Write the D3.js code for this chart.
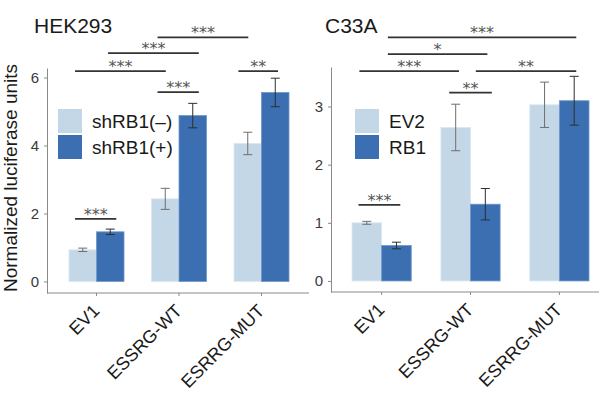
<!DOCTYPE html>
<html>
<head>
<meta charset="utf-8">
<script src="https://cdn.jsdelivr.net/npm/d3@7"></script>
<style>
  body { margin: 0; background: #fff; }
  svg { display: block; font-family: "Liberation Sans", Arial, sans-serif; }
</style>
</head>
<body>
<svg width="614" height="398"></svg>
<script>
// groups on the x axis (same in both panels)
const categories = ["EV1", "ESSRG-WT", "ESRRG-MUT"];

// HEK293 panel
const hekSeries = ["shRB1(\u2013)", "shRB1(+)"];
const hekLight  = [0.93, 2.43, 4.06];
const hekLightErr = [0.05, 0.31, 0.33];
const hekDark   = [1.46, 4.88, 5.56];
const hekDarkErr  = [0.08, 0.36, 0.42];
const hekTicks  = [0, 2, 4, 6];
// brackets: [from, to] in group units, level in data units, label
const hekBrackets = [
  [-0.26, 0.24, 1.84, "***"],
  [0.74, 1.24, 5.57, "***"],
  [1.72, 2.20, 6.19, "**"],
  [-0.26, 0.84, 6.19, "***"],
  [0.14, 1.24, 6.72, "***"],
  [0.74, 1.84, 7.18, "***"]
];

// C33A panel
const c33Series = ["EV2", "RB1"];
const c33Light  = [1.00, 2.64, 3.03];
const c33LightErr = [0.025, 0.40, 0.39];
const c33Dark   = [0.61, 1.32, 3.10];
const c33DarkErr  = [0.057, 0.27, 0.42];
const c33Ticks  = [0, 1, 2, 3];
const c33Brackets = [
  [-0.26, 0.21, 1.31, "***"],
  [0.76, 1.24, 3.24, "**"],
  [-0.25, 0.87, 3.61, "***"],
  [1.06, 2.19, 3.61, "**"],
  [0.07, 1.19, 3.90, "*"],
  [0.07, 2.19, 4.19, "***"]
];

const lightCol = "#c4d7e7";
const darkCol  = "#3b6fb1";
const axisCol  = "#8a8a8a";

const svg = d3.select("svg");

function drawPanel(p) {
  const g = svg.append("g");

  const x = d3.scaleBand()
    .domain(categories)
    .range(p.xRange)
    .paddingInner(1 / 3)
    .paddingOuter(0);
  const y = d3.scaleLinear()
    .domain(p.yDomain)
    .range(p.yRange);
  const bw = x.bandwidth() / 2;
  // group index -> pixel (centre of the pair of bars)
  const gx = d3.scaleLinear()
    .domain([0, categories.length - 1])
    .range([x(categories[0]) + bw, x(categories[categories.length - 1]) + bw]);

  // title
  g.append("text")
      .attr("x", p.titleX)
      .attr("y", 33)
      .attr("font-size", 21)
      .attr("fill", "#1a1a1a")
      .text(p.title);

  // bars
  const rows = categories.map((c, i) => ({
    cat: c,
    vals: [
      { v: p.light[i], e: p.lightErr[i], k: 0 },
      { v: p.dark[i], e: p.darkErr[i], k: 1 }
    ]
  }));

  const grp = g.append("g")
    .selectAll("g")
    .data(rows)
    .join("g")
      .attr("transform", d => `translate(${x(d.cat)},0)`);

  grp.selectAll("rect")
    .data(d => d.vals)
    .join("rect")
      .attr("x", d => d.k * bw)
      .attr("width", bw)
      .attr("y", d => y(d.v))
      .attr("height", d => y(0) - y(d.v))
      .attr("fill", d => d.k ? darkCol : lightCol)
      .attr("stroke", d => d.k ? "#6f97c8" : "#dbe7f1")
      .attr("stroke-width", 0.8);

  // error bars
  grp.selectAll("path.err")
    .data(d => d.vals)
    .join("path")
      .attr("class", "err")
      .attr("fill", "none")
      .attr("stroke", d => d.k ? "#2e2e2e" : "#6e6e6e")
      .attr("stroke-width", 1)
      .attr("d", d => {
        const cx = d.k * bw + bw / 2;
        return `M${cx},${y(d.v + d.e)}V${y(d.v - d.e)}` +
               `M${cx - 4.5},${y(d.v + d.e)}H${cx + 4.5}` +
               `M${cx - 4.5},${y(d.v - d.e)}H${cx + 4.5}`;
      });

  // y axis
  g.append("g")
      .attr("transform", `translate(${p.axisX},0)`)
      .call(d3.axisLeft(y).tickValues(p.ticks).tickFormat(d3.format("d"))
        .tickSize(3).tickSizeOuter(0).tickPadding(5))
      .call(a => a.select(".domain").attr("stroke", axisCol))
      .call(a => a.selectAll(".tick line").attr("stroke", axisCol))
      .call(a => a.selectAll(".tick text")
        .attr("font-size", 15)
        .attr("fill", "#3a3a3a")
        .attr("font-family", "Liberation Sans, Arial, sans-serif"));

  // x axis
  const xa = g.append("g")
      .attr("transform", `translate(0,${p.yRange[0]})`)
      .call(d3.axisBottom(x).tickSize(3).tickSizeOuter(0));
  xa.select(".domain").remove();
  xa.selectAll(".tick line").attr("stroke", axisCol);
  xa.selectAll(".tick text")
      .attr("font-size", 18)
      .attr("fill", "#1a1a1a")
      .attr("font-family", "Liberation Sans, Arial, sans-serif")
      .attr("text-anchor", "end")
      .attr("dy", 0)
      .attr("y", 0)
      .attr("transform", "translate(4,19) rotate(-45)");
  g.append("line")
      .attr("x1", p.axisX)
      .attr("x2", p.axisEnd)
      .attr("y1", p.yRange[0])
      .attr("y2", p.yRange[0])
      .attr("stroke", axisCol);

  // significance brackets
  const br = g.append("g")
    .selectAll("g")
    .data(p.brackets)
    .join("g");
  br.append("line")
      .attr("x1", d => gx(d[0]))
      .attr("x2", d => gx(d[1]))
      .attr("y1", d => y(d[2]))
      .attr("y2", d => y(d[2]))
      .attr("stroke", "#333")
      .attr("stroke-width", 1.8);
  br.append("text")
      .attr("x", d => (gx(d[0]) + gx(d[1])) / 2)
      .attr("y", d => y(d[2]) + 1)
      .attr("text-anchor", "middle")
      .attr("font-family", "DejaVu Sans, sans-serif")
      .attr("font-size", 16)
      .attr("fill", "#555")
      .text(d => d[3]);

  // legend
  const lg = g.append("g")
    .selectAll("g")
    .data(p.series)
    .join("g")
      .attr("transform", (d, i) => `translate(${p.legendX},${109 + i * 26})`);
  lg.append("rect")
      .attr("width", 24)
      .attr("height", 24)
      .attr("fill", (d, i) => i ? darkCol : lightCol);
  lg.append("text")
      .attr("x", 34)
      .attr("y", 12)
      .attr("dy", "0.35em")
      .attr("font-size", 19)
      .attr("fill", "#1a1a1a")
      .text(d => d);
}

drawPanel({
  title: "HEK293", titleX: 34,
  series: hekSeries,
  light: hekLight, lightErr: hekLightErr,
  dark: hekDark, darkErr: hekDarkErr,
  ticks: hekTicks, brackets: hekBrackets,
  xRange: [69, 289], axisX: 47, axisEnd: 309,
  yDomain: [-0.34, 6.28], yRange: [293, 68],
  legendX: 58
});

drawPanel({
  title: "C33A", titleX: 325,
  series: c33Series,
  light: c33Light, lightErr: c33LightErr,
  dark: c33Dark, darkErr: c33DarkErr,
  ticks: c33Ticks, brackets: c33Brackets,
  xRange: [352, 589], axisX: 331, axisEnd: 599,
  yDomain: [-0.19, 3.68], yRange: [292, 67],
  legendX: 355
});

// y axis title
svg.append("text")
    .attr("transform", "translate(17,178) rotate(-90)")
    .attr("text-anchor", "middle")
    .attr("font-size", 19)
    .attr("fill", "#1a1a1a")
    .text("Normalized luciferase units");
</script>
</body>
</html>
